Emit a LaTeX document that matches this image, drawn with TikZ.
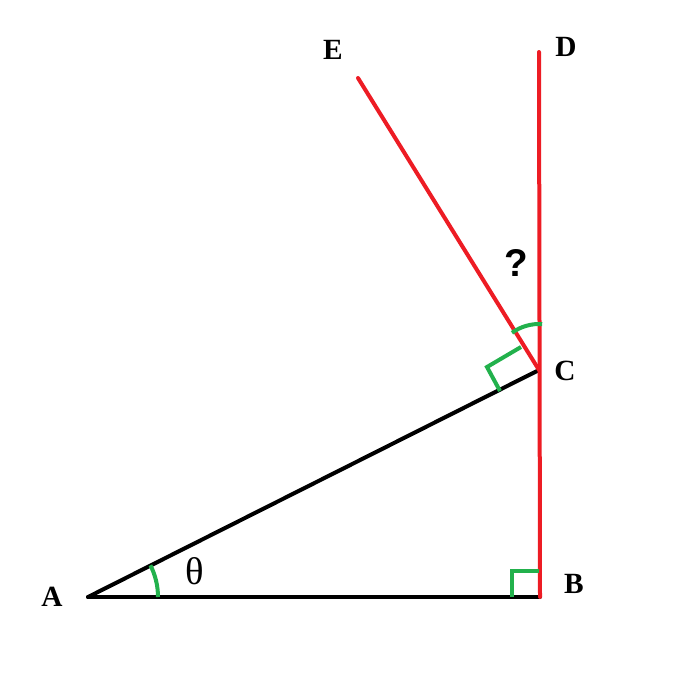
\documentclass[tikz,border=0pt]{standalone}
\usepackage{fontspec}
\setmainfont{Liberation Serif}
\newfontfamily\qfont{Liberation Sans}
\definecolor{paintred}{RGB}{237,28,36}
\definecolor{paintgreen}{RGB}{34,177,76}
\tikzset{
  pt/.style={font=\fontsize{22}{22}\selectfont\bfseries, inner sep=0pt},
  side/.style={line width=3pt, line cap=round},
  anglemark/.style={paintgreen, line width=3pt}
}
\begin{document}
\begin{tikzpicture}[x=0.75pt, y=-0.75pt]
\useasboundingbox (0,0) rectangle (685,683);
\coordinate (A) at (88,597);
\coordinate (B) at (540,597);
\coordinate (C) at (539,370);
\coordinate (D) at (539,52);
\coordinate (E) at (358,78);
% triangle
\draw [side] (A) -- (B);
\draw [side] (A) -- (C);
\draw [side, paintred] (B) -- (D);
\draw [side, paintred] (C) -- (E);
% angle marks
\draw [anglemark] (158,597) arc [start angle=0, end angle=-27, radius=70];
\draw [anglemark] (512,597) -- (512,571) -- (539,571);
\draw [anglemark] (500,391) -- (487,367) -- (521,347);
\draw [anglemark] (C) ++(-86:46) arc [start angle=-86, end angle=-126, radius=46];
% labels
\node [pt] (labA) at (52,597) {A};
\node [pt] (labB) at (574,584) {B};
\node [pt] (labC) at (565,371) {C};
\node [pt] (labD) at (566,47) {D};
\node [pt] (labE) at (333,50) {E};
\node [font=\fontsize{29}{29}\selectfont, inner sep=0pt] (theta) at (195,571) {θ};
\node [font=\fontsize{29}{29}\selectfont\qfont\bfseries, inner sep=0pt] (q) at (516,263) {?};
\end{tikzpicture}
\end{document}
